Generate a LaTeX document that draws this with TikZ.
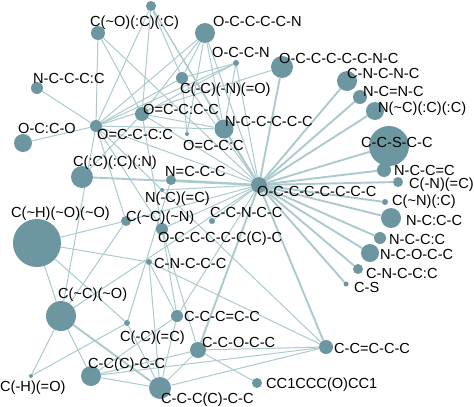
\documentclass[tikz,border=0pt]{standalone}
\usepackage{fontspec}
\setmainfont{Liberation Sans}
\usetikzlibrary{backgrounds}
\definecolor{molfill}{RGB}{108,150,160}
\definecolor{linkc}{RGB}{172,202,206}
\tikzset{
	mol/.style = {circle, fill = molfill, inner sep = 0pt},
	lbl/.style = {anchor = west, inner sep = 0pt, yshift = -1.5pt, font = \fontsize{14.6}{17}\selectfont},
	link/.style = {draw = linkc, line width = 1pt},
	heavy/.style = {draw = linkc, line width = 1.9pt}
}
\begin{document}
\begin{tikzpicture} [x = 1pt, y = -1pt]
	\useasboundingbox (0,0) rectangle (474,407);
	% fragments
	\node [mol, minimum size = 10pt] (top) at (151,6) {};
	\node [mol, minimum size = 14pt] (cocc) at (98,33) {};
	\node [mol, minimum size = 20pt] (occccn) at (205,33) {};
	\node [mol, minimum size = 6pt] (occn) at (236,63) {};
	\node [mol, minimum size = 22pt] (occcccnc) at (282,67) {};
	\node [mol, minimum size = 20pt] (cncnc) at (347,81) {};
	\node [mol, minimum size = 14pt] (ncnc) at (360,97) {};
	\node [mol, minimum size = 18pt] (nccc) at (375,111) {};
	\node [mol, minimum size = 40pt] (ccscc) at (389,146) {};
	\node [mol, minimum size = 14pt] (nccec) at (384,170) {};
	\node [mol, minimum size = 10pt] (cnec) at (398,182) {};
	\node [mol, minimum size = 6pt] (cnc) at (385,202) {};
	\node [mol, minimum size = 20pt] (ncccb) at (391,218) {};
	\node [mol, minimum size = 12pt] (ncccc) at (380,238) {};
	\node [mol, minimum size = 18pt] (ncocc) at (370,253) {};
	\node [mol, minimum size = 10pt] (cncccb) at (358,269) {};
	\node [mol, minimum size = 5pt] (cs) at (346,284) {};
	\node [mol, minimum size = 14pt] (ccecc) at (326,347) {};
	\node [mol, minimum size = 10pt] (ring) at (257,383) {};
	\node [mol, minimum size = 16pt] (hub) at (259,185) {};
	\node [mol, minimum size = 19pt] (nccccc) at (224,129) {};
	\node [mol, minimum size = 12pt] (ccnno) at (182,78) {};
	\node [mol, minimum size = 14pt] (occccb) at (142,114) {};
	\node [mol, minimum size = 12pt] (occca) at (96,126) {};
	\node [mol, minimum size = 4pt] (occ) at (187,134) {};
	\node [mol, minimum size = 18pt] (occo) at (23,143) {};
	\node [mol, minimum size = 12pt] (ncccd) at (37,88) {};
	\node [mol, minimum size = 22pt] (cccn) at (82,177) {};
	\node [mol, minimum size = 10pt] (ncccn) at (171,180) {};
	\node [mol, minimum size = 4pt] (ncec) at (162,190) {};
	\node [mol, minimum size = 10pt] (ccn) at (126,221) {};
	\node [mol, minimum size = 12pt] (occccc) at (162,229) {};
	\node [mol, minimum size = 6pt] (ccncc) at (212,221) {};
	\node [mol, minimum size = 48pt] (chooo) at (37,243) {};
	\node [mol, minimum size = 6pt] (cnccc) at (149,262) {};
	\node [mol, minimum size = 30pt] (cco) at (61,316) {};
	\node [mol, minimum size = 6pt] (cec) at (127,323) {};
	\node [mol, minimum size = 12pt] (cccec) at (177,316) {};
	\node [mol, minimum size = 16pt] (ccocc) at (198,350) {};
	\node [mol, minimum size = 20pt] (ccbcc) at (91,376) {};
	\node [mol, minimum size = 4pt] (cho) at (31,376) {};
	\node [mol, minimum size = 22pt] (cccbcc) at (160,388) {};
	% labels
	\node [lbl] (cocc-l) at (90,21) {C(\textasciitilde O)(:C)(:C)};
	\node [lbl] (occccn-l) at (213,20) {O-C-C-C-C-N};
	\node [lbl] (occn-l) at (212,51) {O-C-C-N};
	\node [lbl] (occcccnc-l) at (279,57) {O-C-C-C-C-C-N-C};
	\node [lbl] (cncnc-l) at (347,72) {C-N-C-N-C};
	\node [lbl] (ncnc-l) at (363,90) {N-C=N-C};
	\node [lbl] (nccc-l) at (378,107) {N(\textasciitilde C)(:C)(:C)};
	\node [lbl] (ccscc-l) at (361,141) {C-C-S-C-C};
	\node [lbl] (nccec-l) at (394,169) {N-C-C=C};
	\node [lbl] (cnec-l) at (409,183) {C(-N)(=C)};
	\node [lbl] (cnc-l) at (392,200) {C(\textasciitilde N)(:C)};
	\node [lbl] (ncccb-l) at (406,219) {N-C:C-C};
	\node [lbl] (ncccc-l) at (389,238) {N-C-C:C};
	\node [lbl] (ncocc-l) at (380,253) {N-C-O-C-C};
	\node [lbl] (cncccb-l) at (366,272) {C-N-C-C:C};
	\node [lbl] (cs-l) at (354,286) {C-S};
	\node [lbl] (ccecc-l) at (334,347) {C-C=C-C-C};
	\node [lbl] (ring-l) at (266,383) {CC1CCC(O)CC1};
	\node [lbl] (hub-l) at (257,190) {O-C-C-C-C-C-C-C};
	\node [lbl] (nccccc-l) at (225,120) {N-C-C-C-C-C};
	\node [lbl] (ccnno-l) at (180,88) {C(-C)(-N)(=O)};
	\node [lbl] (occccb-l) at (143,108) {O=C-C:C-C};
	\node [lbl] (occca-l) at (97,133) {O=C-C-C:C};
	\node [lbl] (occ-l) at (183,144) {O=C-C:C};
	\node [lbl] (occo-l) at (18,127) {O-C:C-O};
	\node [lbl] (ncccd-l) at (33,77) {N-C-C-C:C};
	\node [lbl] (cccn-l) at (73,161) {C(:C)(:C)(:N)};
	\node [lbl] (ncccn-l) at (165,170) {N=C-C-C};
	\node [lbl] (ncec-l) at (145,197) {N(-C)(=C)};
	\node [lbl] (ccn-l) at (126,216) {C(\textasciitilde C)(\textasciitilde N)};
	\node [lbl] (occccc-l) at (158,237) {O-C-C-C-C-C(C)-C};
	\node [lbl] (ccncc-l) at (210,211) {C-C-N-C-C};
	\node [lbl] (chooo-l) at (11,212) {C(\textasciitilde H)(\textasciitilde O)(\textasciitilde O)};
	\node [lbl] (cnccc-l) at (154,262) {C-N-C-C-C};
	\node [lbl] (cco-l) at (58,293) {C(\textasciitilde C)(\textasciitilde O)};
	\node [lbl] (cec-l) at (120,336) {C(-C)(=C)};
	\node [lbl] (cccec-l) at (184,315) {C-C-C=C-C};
	\node [lbl] (ccocc-l) at (202,341) {C-C-O-C-C};
	\node [lbl] (ccbcc-l) at (88,363) {C-C(C)-C-C};
	\node [lbl] (cho-l) at (0,386) {C(-H)(=O)};
	\node [lbl] (cccbcc-l) at (161,398) {C-C-C(C)-C-C};
	% links
	\begin{scope}[on background layer]
	\foreach \m in {occcccnc,cncnc,ncnc,nccc,ccscc,nccec,cnec,cnc,ncccb,ncccc,ncocc,cncccb,cs,ccecc,ccocc,nccccc,cccn,ncccn}
		\draw [heavy] (hub) -- (\m);
	\foreach \m in {occccn,occn,cocc,ccnno,occccb,occca,ccn,occccc,ccncc,cccec,top,ncec,cco}
		\draw [link] (hub) -- (\m);
	\foreach \m in {occo,ncccd,cocc,top,occccn,occn,occcccnc,nccccc,ccn,ncec,occccc,ccnno,cco}
		\draw [link] (occca) -- (\m);
	\draw [link] (top) -- (occccb);
	\draw [link] (top) -- (ccnno);
	\draw [link] (top) -- (nccccc);
	\draw [link] (cocc) -- (occccb);
	\draw [link] (occccn) -- (occccb);
	\draw [link] (occccn) -- (ccnno);
	\draw [link] (occccn) -- (nccccc);
	\draw [link] (occccn) -- (occ);
	\draw [link] (occn) -- (occccb);
	\draw [link] (occn) -- (nccccc);
	\draw [link] (occn) -- (ccnno);
	\draw [link] (occccb) -- (nccccc);
	\draw [link] (occccb) -- (occccc);
	\draw [link] (ccnno) -- (occ);
	\draw [link] (cccn) -- (occccb);
	\draw [link] (chooo) -- (ccn);
	\draw [link] (chooo) -- (cnccc);
	\draw [link] (chooo) -- (cco);
	\draw [link] (chooo) -- (cec);
	\draw [link] (cco) -- (ccbcc);
	\draw [heavy] (cco) -- (cccbcc);
	\draw [link] (cco) -- (cho);
	\draw [link] (cco) -- (ccn);
	\draw [link] (cho) -- (cec);
	\draw [link] (cec) -- (cccbcc);
	\draw [link] (cec) -- (ncccn);
	\draw [link] (ccbcc) -- (ccecc);
	\draw [link] (ccbcc) -- (cccec);
	\draw [link] (ccbcc) -- (cccbcc);
	\draw [link] (cccbcc) -- (ccecc);
	\draw [link] (cccbcc) -- (cccec);
	\draw [link] (cccbcc) -- (cnccc);
	\draw [link] (cccbcc) -- (ccocc);
	\draw [link] (cccec) -- (cnccc);
	\draw [link] (cccec) -- (occccc);
	\draw [link] (ccocc) -- (ring);
	\draw [link] (ccocc) -- (ccecc);
	\draw [link] (ccocc) -- (ccbcc);
	\draw [link] (ccocc) -- (occccc);
	\draw [link] (cnccc) -- (ccecc);
	\draw [link] (ncec) -- (ccecc);
	\end{scope}
	\end{tikzpicture}
\end{document}
